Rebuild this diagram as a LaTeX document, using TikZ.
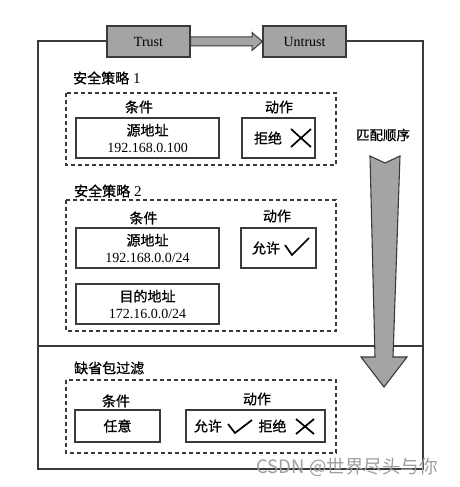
\documentclass[tikz,border=0pt]{standalone}
\usepackage{fontspec}
\setmainfont{Liberation Serif}
\newfontfamily\cjk[FakeBold=0.9]{Noto Sans CJK SC}
\newfontfamily\cjkwm{Noto Sans CJK SC}
\definecolor{linec}{HTML}{3A3A3A}
\definecolor{fillg}{HTML}{A4A4A4}
\tikzset{
  frame/.style={draw=linec, line width=1.1pt},
  zonebox/.style={draw=linec, line width=1.2pt, fill=fillg, minimum width=83pt, minimum height=31pt, inner sep=0pt, font=\fontsize{14}{16}\selectfont},
  condbox/.style={draw=linec, line width=1.4pt, fill=white, inner sep=0pt, align=center, font=\fontsize{14}{16.5}\selectfont},
  dashbox/.style={draw=linec, line width=1.1pt, dash pattern=on 4pt off 3pt},
  lbl/.style={inner sep=0pt, font=\cjk\fontsize{14}{16}\selectfont},
  tickmark/.style={draw=black, line width=1.7pt},
  bigarrow/.style={draw=linec, line width=1.1pt, fill=fillg, line join=miter}
}
\begin{document}
\begin{tikzpicture}[x=1pt,y=-1pt]
\useasboundingbox (0,0) rectangle (459,487);
% outer frame
\draw[frame] (38,41) rectangle (423,469);
\draw[frame] (38,346) -- (423,346);
% zones
\node[zonebox] (trust) at (148.5,41.5) {Trust};
\node[zonebox] (untrust) at (304.5,41.5) {Untrust};
\draw[bigarrow, line width=1pt] ([yshift=4.5pt]trust.east) -- (252,37) -- (252,32.5) -- (untrust.west) -- (252,50.5) -- (252,46) -- ([yshift=-4.5pt]trust.east) -- cycle;
% policy 1
\node[lbl, anchor=west] (p1) at (73,78) {安全策略\hspace{4pt}{\rmfamily\fontsize{15}{16}\selectfont 1}};
\draw[dashbox] (66,93) rectangle (336,165);
\node[lbl] (c1) at (139,107) {条件};
\node[lbl] (a1) at (279,107) {动作};
\node[condbox, minimum width=143pt, minimum height=40pt] (cond1) at (147.5,138) {{\cjk 源地址}\\192.168.0.100};
\node[condbox, minimum width=73pt, minimum height=40pt] (act1) at (278.5,138) {};
\node[lbl] (act1t) at (268,138) {拒绝};
\draw[tickmark] (291,129) -- (311,147) (291,147) -- (311,129);
% match order
\node[lbl, font=\cjk\fontsize{13.5}{16}\selectfont] (order) at (383,135) {匹配顺序};
% policy 2
\node[lbl, anchor=west] (p2) at (74,191) {安全策略\hspace{4pt}{\rmfamily\fontsize{15}{16}\selectfont 2}};
\draw[dashbox] (66,200) rectangle (336,331);
\node[lbl] (c2) at (143.5,218) {条件};
\node[lbl] (a2) at (277,216) {动作};
\node[condbox, minimum width=143pt, minimum height=40pt] (cond2a) at (147.5,248) {{\cjk 源地址}\\192.168.0.0/24};
\node[condbox, minimum width=75pt, minimum height=40pt] (act2) at (278.5,248) {};
\node[lbl] (act2t) at (266,248) {允许};
\draw[tickmark] (285,245) -- (292,255) -- (309,238);
\node[condbox, minimum width=143pt, minimum height=40pt] (cond2b) at (147.5,304) {{\cjk 目的地址}\\172.16.0.0/24};
% default
\node[lbl, anchor=west] (p3) at (74,368) {缺省包过滤};
\draw[dashbox] (66,380) rectangle (336,453);
\node[lbl] (c3) at (116,401) {条件};
\node[lbl] (a3) at (257,399) {动作};
\node[condbox, minimum width=85pt, minimum height=32pt, font=\cjk\fontsize{14}{16}\selectfont] (cond3) at (117.5,426) {任意};
\node[condbox, minimum width=139pt, minimum height=32pt] (act3) at (255.5,426) {};
\node[lbl] (act3a) at (208,426) {允许};
\draw[tickmark] (228,424) -- (235,433) -- (252,420);
\node[lbl] (act3b) at (272.5,426) {拒绝};
\draw[tickmark] (296,419) -- (314,434) (296,434) -- (314,419);
% big arrow
\draw[bigarrow] (370,156) -- (385,163) -- (400,156) -- (393,357) -- (407,357) -- (384,387) -- (361,357) -- (375,357) -- cycle;
% watermark
\node[inner sep=0pt, text=black!38, font=\cjkwm\fontsize{18.5}{20}\selectfont] (wm) at (347,467) {CSDN @世界尽头与你};
\end{tikzpicture}
\end{document}
